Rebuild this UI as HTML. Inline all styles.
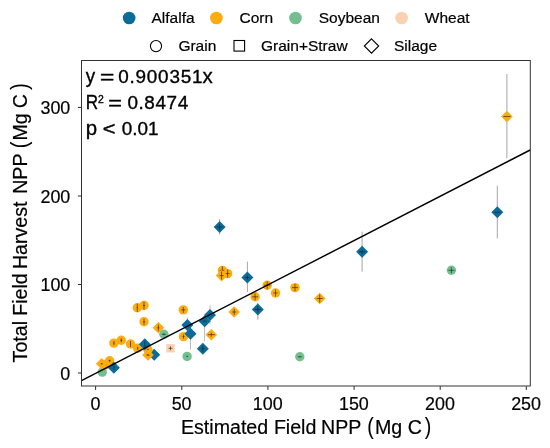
<!DOCTYPE html>
<html><head><meta charset="utf-8"><title>NPP scatter</title>
<style>
html,body{margin:0;padding:0;background:#fff;}
svg{display:block;}
text{font-family:"Liberation Sans",Arial,Helvetica,sans-serif;fill:#000;stroke:#000;stroke-width:0.2px;}
.tk{font-size:17.9px;}
.lg{font-size:15.5px;}
.ax{font-size:19.6px;}
.an text{font-size:18.9px;stroke-width:0.35px;}
.an .lt{font-size:20.4px;}
.an .op{stroke-width:0.45px;}
.pr{stroke-width:0.1px;}
</style></head><body>
<svg width="550" height="448" viewBox="0 0 550 448">
<rect width="550" height="448" fill="#fff"/>
<!-- legend -->
<circle cx="129.15" cy="18" r="6.35" fill="#0B6B99"/><text x="151.5" y="23.1" class="lg">Alfalfa</text>
<circle cx="216.4" cy="18" r="6.35" fill="#FDAB0F"/><text x="239.5" y="23.1" class="lg">Corn</text>
<circle cx="295.5" cy="18" r="6.35" fill="#74BF90"/><text x="318.7" y="23.1" class="lg">Soybean</text>
<circle cx="401.6" cy="18" r="6.35" fill="#F9D3B1"/><text x="424.8" y="23.1" class="lg">Wheat</text>
<circle cx="156" cy="46.1" r="5.6" fill="none" stroke="#000" stroke-width="1.1"/><text x="178.4" y="51.4" class="lg">Grain</text>
<rect x="234" y="40.5" width="10.6" height="10.6" fill="none" stroke="#000" stroke-width="1.1"/><text x="261" y="51.4" class="lg">Grain+Straw</text>
<path d="M371.5 38.8L378.7 46L371.5 53.2L364.3 46Z" fill="none" stroke="#000" stroke-width="1.1"/><text x="394" y="51.4" class="lg">Silage</text>
<!-- panel -->
<g><path d="M187.4 317.4V333.0" stroke="#bcbcbc" stroke-width="1"/><path d="M190.5 326.0V349.5" stroke="#bcbcbc" stroke-width="1"/><path d="M204.6 321.0V341.0" stroke="#bcbcbc" stroke-width="1"/><path d="M210.0 305.3V324.4" stroke="#bcbcbc" stroke-width="1"/><path d="M219.6 219.0V234.5" stroke="#a6a6a6" stroke-width="1"/><path d="M247.4 261.6V292.0" stroke="#a6a6a6" stroke-width="1"/><path d="M257.8 303.0V319.6" stroke="#a6a6a6" stroke-width="1"/><path d="M362.1 231.7V271.6" stroke="#a6a6a6" stroke-width="1"/><path d="M497.3 185.7V238.4" stroke="#a6a6a6" stroke-width="1"/><path d="M506.9 74.0V158.3" stroke="#a6a6a6" stroke-width="1"/></g>
<g><circle cx="102.3" cy="372.1" r="4.7" fill="#74BF90"/><circle cx="163.9" cy="334.3" r="4.7" fill="#74BF90"/><path d="M163.9 333.3V335.3" stroke="#1a1a1a" stroke-width="0.6"/><path d="M161.9 334.3H165.9" stroke="#1a1a1a" stroke-width="0.6"/><circle cx="187.1" cy="356.4" r="4.7" fill="#74BF90"/><path d="M187.1 355.9V356.9" stroke="#1a1a1a" stroke-width="0.6"/><path d="M186.4 356.4H187.8" stroke="#1a1a1a" stroke-width="0.6"/><circle cx="299.8" cy="356.8" r="4.7" fill="#74BF90"/><path d="M299.8 356.3V357.3" stroke="#1a1a1a" stroke-width="0.6"/><path d="M297.8 356.8H301.8" stroke="#1a1a1a" stroke-width="0.6"/><circle cx="451.4" cy="270.3" r="4.7" fill="#74BF90"/><path d="M451.4 267.3V273.3" stroke="#1a1a1a" stroke-width="0.6"/><path d="M448.4 270.3H454.4" stroke="#1a1a1a" stroke-width="0.6"/><rect x="166.3" y="344.1" width="8.4" height="8.4" fill="#F9D3B1"/><path d="M170.5 346.3V350.3" stroke="#1a1a1a" stroke-width="0.6"/><path d="M168.5 348.3H172.5" stroke="#1a1a1a" stroke-width="0.6"/><path d="M154.2 348.7L160.2 354.7L154.2 360.7L148.2 354.7Z" fill="#0B6B99"/><circle cx="105.9" cy="364.8" r="4.7" fill="#FDAB0F"/><path d="M105.9 364.3V365.3" stroke="#1a1a1a" stroke-width="0.6"/><path d="M105.4 364.8H106.4" stroke="#1a1a1a" stroke-width="0.6"/><circle cx="109.6" cy="360.7" r="4.7" fill="#FDAB0F"/><path d="M109.6 359.7V361.7" stroke="#1a1a1a" stroke-width="0.6"/><path d="M108.6 360.7H110.6" stroke="#1a1a1a" stroke-width="0.6"/><circle cx="113.9" cy="343.1" r="4.7" fill="#FDAB0F"/><path d="M113.9 341.1V345.1" stroke="#1a1a1a" stroke-width="0.6"/><path d="M113.4 343.1H114.4" stroke="#1a1a1a" stroke-width="0.6"/><circle cx="121.3" cy="340.3" r="4.7" fill="#FDAB0F"/><path d="M121.3 338.3V342.3" stroke="#1a1a1a" stroke-width="0.6"/><path d="M120.3 340.3H122.3" stroke="#1a1a1a" stroke-width="0.6"/><circle cx="130.5" cy="344" r="4.7" fill="#FDAB0F"/><path d="M130.5 341.0V347.0" stroke="#1a1a1a" stroke-width="0.6"/><path d="M130.0 344.0H131.0" stroke="#1a1a1a" stroke-width="0.6"/><circle cx="137.6" cy="348.3" r="4.7" fill="#FDAB0F"/><path d="M137.6 346.8V349.8" stroke="#1a1a1a" stroke-width="0.6"/><path d="M137.1 348.3H138.1" stroke="#1a1a1a" stroke-width="0.6"/><circle cx="137.3" cy="307.7" r="4.7" fill="#FDAB0F"/><path d="M137.3 303.7V311.7" stroke="#1a1a1a" stroke-width="0.6"/><path d="M136.8 307.7H137.8" stroke="#1a1a1a" stroke-width="0.6"/><circle cx="144" cy="305.5" r="4.7" fill="#FDAB0F"/><path d="M144.0 301.5V309.5" stroke="#1a1a1a" stroke-width="0.6"/><path d="M143.0 305.5H145.0" stroke="#1a1a1a" stroke-width="0.6"/><circle cx="144" cy="321.8" r="4.7" fill="#FDAB0F"/><path d="M144.0 318.8V324.8" stroke="#1a1a1a" stroke-width="0.6"/><path d="M143.0 321.8H145.0" stroke="#1a1a1a" stroke-width="0.6"/><circle cx="147.9" cy="349.7" r="4.7" fill="#FDAB0F"/><path d="M147.9 348.7V350.7" stroke="#1a1a1a" stroke-width="0.6"/><path d="M146.9 349.7H148.9" stroke="#1a1a1a" stroke-width="0.6"/><circle cx="183.3" cy="309.9" r="4.7" fill="#FDAB0F"/><path d="M183.3 306.9V312.9" stroke="#1a1a1a" stroke-width="0.6"/><path d="M181.3 309.9H185.3" stroke="#1a1a1a" stroke-width="0.6"/><circle cx="183.5" cy="336.6" r="4.7" fill="#FDAB0F"/><path d="M183.5 334.6V338.6" stroke="#1a1a1a" stroke-width="0.6"/><path d="M182.5 336.6H184.5" stroke="#1a1a1a" stroke-width="0.6"/><circle cx="222.4" cy="270.4" r="4.7" fill="#FDAB0F"/><path d="M222.4 266.4V274.4" stroke="#1a1a1a" stroke-width="0.6"/><path d="M219.9 270.4H224.9" stroke="#1a1a1a" stroke-width="0.6"/><circle cx="227.6" cy="273.6" r="4.7" fill="#FDAB0F"/><path d="M227.6 269.6V277.6" stroke="#1a1a1a" stroke-width="0.6"/><path d="M225.6 273.6H229.6" stroke="#1a1a1a" stroke-width="0.6"/><circle cx="255.1" cy="296.8" r="4.7" fill="#FDAB0F"/><path d="M255.1 293.3V300.3" stroke="#1a1a1a" stroke-width="0.6"/><path d="M252.1 296.8H258.1" stroke="#1a1a1a" stroke-width="0.6"/><circle cx="267.2" cy="285.2" r="4.7" fill="#FDAB0F"/><path d="M267.2 281.2V289.2" stroke="#1a1a1a" stroke-width="0.6"/><path d="M264.2 285.2H270.2" stroke="#1a1a1a" stroke-width="0.6"/><circle cx="275.5" cy="293" r="4.7" fill="#FDAB0F"/><path d="M275.5 289.5V296.5" stroke="#1a1a1a" stroke-width="0.6"/><path d="M273.5 293.0H277.5" stroke="#1a1a1a" stroke-width="0.6"/><circle cx="295" cy="287.6" r="4.7" fill="#FDAB0F"/><path d="M295.0 284.1V291.1" stroke="#1a1a1a" stroke-width="0.6"/><path d="M292.0 287.6H298.0" stroke="#1a1a1a" stroke-width="0.6"/><path d="M101.7 358.0L107.5 363.8L101.7 369.6L95.9 363.8Z" fill="#FDAB0F"/><path d="M101.7 363.3V364.3" stroke="#1a1a1a" stroke-width="0.6"/><path d="M100.7 363.8H102.7" stroke="#1a1a1a" stroke-width="0.6"/><path d="M148.0 349.2L153.8 355.0L148.0 360.8L142.2 355.0Z" fill="#FDAB0F"/><path d="M148.0 354.0V356.0" stroke="#1a1a1a" stroke-width="0.6"/><path d="M146.5 355.0H149.5" stroke="#1a1a1a" stroke-width="0.6"/><path d="M158.4 322.0L164.2 327.8L158.4 333.6L152.6 327.8Z" fill="#FDAB0F"/><path d="M158.4 324.8V330.8" stroke="#1a1a1a" stroke-width="0.6"/><path d="M157.4 327.8H159.4" stroke="#1a1a1a" stroke-width="0.6"/><path d="M211.3 328.9L217.1 334.7L211.3 340.5L205.5 334.7Z" fill="#FDAB0F"/><path d="M211.3 332.7V336.7" stroke="#1a1a1a" stroke-width="0.6"/><path d="M207.8 334.7H214.8" stroke="#1a1a1a" stroke-width="0.6"/><path d="M221.6 269.8L227.4 275.6L221.6 281.4L215.8 275.6Z" fill="#FDAB0F"/><path d="M221.6 271.6V279.6" stroke="#1a1a1a" stroke-width="0.6"/><path d="M219.6 275.6H223.6" stroke="#1a1a1a" stroke-width="0.6"/><path d="M234.2 306.2L240.0 312.0L234.2 317.8L228.4 312.0Z" fill="#FDAB0F"/><path d="M234.2 309.0V315.0" stroke="#1a1a1a" stroke-width="0.6"/><path d="M232.2 312.0H236.2" stroke="#1a1a1a" stroke-width="0.6"/><path d="M319.7 292.7L325.5 298.5L319.7 304.3L313.9 298.5Z" fill="#FDAB0F"/><path d="M319.7 294.5V302.5" stroke="#1a1a1a" stroke-width="0.6"/><path d="M316.7 298.5H322.7" stroke="#1a1a1a" stroke-width="0.6"/><path d="M506.9 110.7L512.7 116.5L506.9 122.3L501.1 116.5Z" fill="#FDAB0F"/><path d="M503.4 116.5H510.4" stroke="#1a1a1a" stroke-width="0.6"/><path d="M113.9 361.7L119.9 367.7L113.9 373.7L107.9 367.7Z" fill="#0B6B99"/><path d="M113.9 365.7V369.7" stroke="#1a1a1a" stroke-width="0.6"/><path d="M144.8 338.2L150.8 344.2L144.8 350.2L138.8 344.2Z" fill="#0B6B99"/><path d="M144.8 341.2V347.2" stroke="#1a1a1a" stroke-width="0.6"/><path d="M187.4 319.0L193.4 325.0L187.4 331.0L181.4 325.0Z" fill="#0B6B99"/><path d="M190.5 327.8L196.5 333.8L190.5 339.8L184.5 333.8Z" fill="#0B6B99"/><path d="M202.8 342.7L208.8 348.7L202.8 354.7L196.8 348.7Z" fill="#0B6B99"/><path d="M202.8 345.7V351.7" stroke="#1a1a1a" stroke-width="0.6"/><path d="M200.8 348.7H204.8" stroke="#1a1a1a" stroke-width="0.6"/><path d="M204.6 315.2L210.6 321.2L204.6 327.2L198.6 321.2Z" fill="#0B6B99"/><path d="M202.6 321.2H206.6" stroke="#1a1a1a" stroke-width="0.6"/><path d="M210.0 308.9L216.0 314.9L210.0 320.9L204.0 314.9Z" fill="#0B6B99"/><path d="M219.6 221.0L225.6 227.0L219.6 233.0L213.6 227.0Z" fill="#0B6B99"/><path d="M219.6 224.0V230.0" stroke="#1a1a1a" stroke-width="0.6"/><path d="M216.6 227.0H222.6" stroke="#1a1a1a" stroke-width="0.6"/><path d="M247.4 271.6L253.4 277.6L247.4 283.6L241.4 277.6Z" fill="#0B6B99"/><path d="M247.4 275.6V279.6" stroke="#1a1a1a" stroke-width="0.6"/><path d="M245.4 277.6H249.4" stroke="#1a1a1a" stroke-width="0.6"/><path d="M257.8 303.4L263.8 309.4L257.8 315.4L251.8 309.4Z" fill="#0B6B99"/><path d="M257.8 306.4V312.4" stroke="#1a1a1a" stroke-width="0.6"/><path d="M254.8 309.4H260.8" stroke="#1a1a1a" stroke-width="0.6"/><path d="M362.1 245.8L368.1 251.8L362.1 257.8L356.1 251.8Z" fill="#0B6B99"/><path d="M362.1 249.8V253.8" stroke="#1a1a1a" stroke-width="0.6"/><path d="M359.1 251.8H365.1" stroke="#1a1a1a" stroke-width="0.6"/><path d="M497.3 206.3L503.3 212.3L497.3 218.3L491.3 212.3Z" fill="#0B6B99"/><path d="M494.3 212.3H500.3" stroke="#1a1a1a" stroke-width="0.6"/></g>
<path d="M81.5 380.7L530.2 150" stroke="#000" stroke-width="1.45" fill="none"/>
<rect x="81.5" y="60.5" width="448.8" height="325.5" fill="none" stroke="#333" stroke-width="1"/>
<path d="M95.60000000000001 386.2V389.9" stroke="#2a2a2a" stroke-width="1"/><text x="95.4" y="410" text-anchor="middle" class="tk">0</text><path d="M181.79999999999998 386.2V389.9" stroke="#2a2a2a" stroke-width="1"/><text x="181.6" y="410" text-anchor="middle" class="tk">50</text><path d="M267.9 386.2V389.9" stroke="#2a2a2a" stroke-width="1"/><text x="267.7" y="410" text-anchor="middle" class="tk">100</text><path d="M354.09999999999997 386.2V389.9" stroke="#2a2a2a" stroke-width="1"/><text x="353.9" y="410" text-anchor="middle" class="tk">150</text><path d="M440.2 386.2V389.9" stroke="#2a2a2a" stroke-width="1"/><text x="440" y="410" text-anchor="middle" class="tk">200</text><path d="M526.3000000000001 386.2V389.9" stroke="#2a2a2a" stroke-width="1"/><text x="526.1" y="410" text-anchor="middle" class="tk">250</text><path d="M77.9 373H81.5" stroke="#2a2a2a" stroke-width="1"/><text x="70.3" y="379.5" text-anchor="end" class="tk">0</text><path d="M77.9 284.5H81.5" stroke="#2a2a2a" stroke-width="1"/><text x="70.3" y="291.0" text-anchor="end" class="tk">100</text><path d="M77.9 196H81.5" stroke="#2a2a2a" stroke-width="1"/><text x="70.3" y="202.5" text-anchor="end" class="tk">200</text><path d="M77.9 107.4H81.5" stroke="#2a2a2a" stroke-width="1"/><text x="70.3" y="113.9" text-anchor="end" class="tk">300</text>
<!-- annotation -->
<g class="an">
<text transform="translate(85.8 82.5) scale(0.92 1)" class="lt">y</text><text transform="translate(99.9 82.5) scale(1.3 1)" class="op">=</text><text x="118.15" y="82.5"><tspan letter-spacing="0.8">0.90035</tspan><tspan letter-spacing="0">1</tspan><tspan class="lt">x</tspan></text>
<text transform="translate(85.7 108.6) scale(0.84 1)" class="lt">R</text><text x="97.9" y="102.6" style="font-size:10.4px">2</text><text transform="translate(108.25 108.6) scale(1.24 1)" class="op">=</text><text x="127.4" y="108.6" letter-spacing="0.6">0.8474</text>
<text x="85.8" y="134.8" class="lt">p</text><text transform="translate(102.8 134.8) scale(1.15 1)" class="op">&lt;</text><text x="121.75" y="134.8">0.01</text>
</g>
<!-- axis titles -->
<text y="434.3" class="ax"><tspan x="181">Estimated</tspan><tspan x="273.9">Field</tspan><tspan x="321.1">NPP</tspan><tspan x="374.9">Mg</tspan><tspan x="407.8">C</tspan></text>
<text transform="translate(367.2 434.3) scale(1 1.19)" class="ax pr">(</text><text transform="translate(424.7 434.3) scale(1 1.19)" class="ax pr">)</text>
<g transform="translate(27.2 362) rotate(-90)">
<text class="ax"><tspan x="-0.4">Total</tspan><tspan x="46.2">Field</tspan><tspan x="92.9">Harvest</tspan><tspan x="168.2">NPP</tspan><tspan x="221.4">Mg</tspan><tspan x="253.7">C</tspan></text>
<text transform="translate(213.8 0) scale(1 1.19)" class="ax pr">(</text><text transform="translate(272.2 0) scale(1 1.19)" class="ax pr">)</text>
</g>
</svg>
</body></html>
